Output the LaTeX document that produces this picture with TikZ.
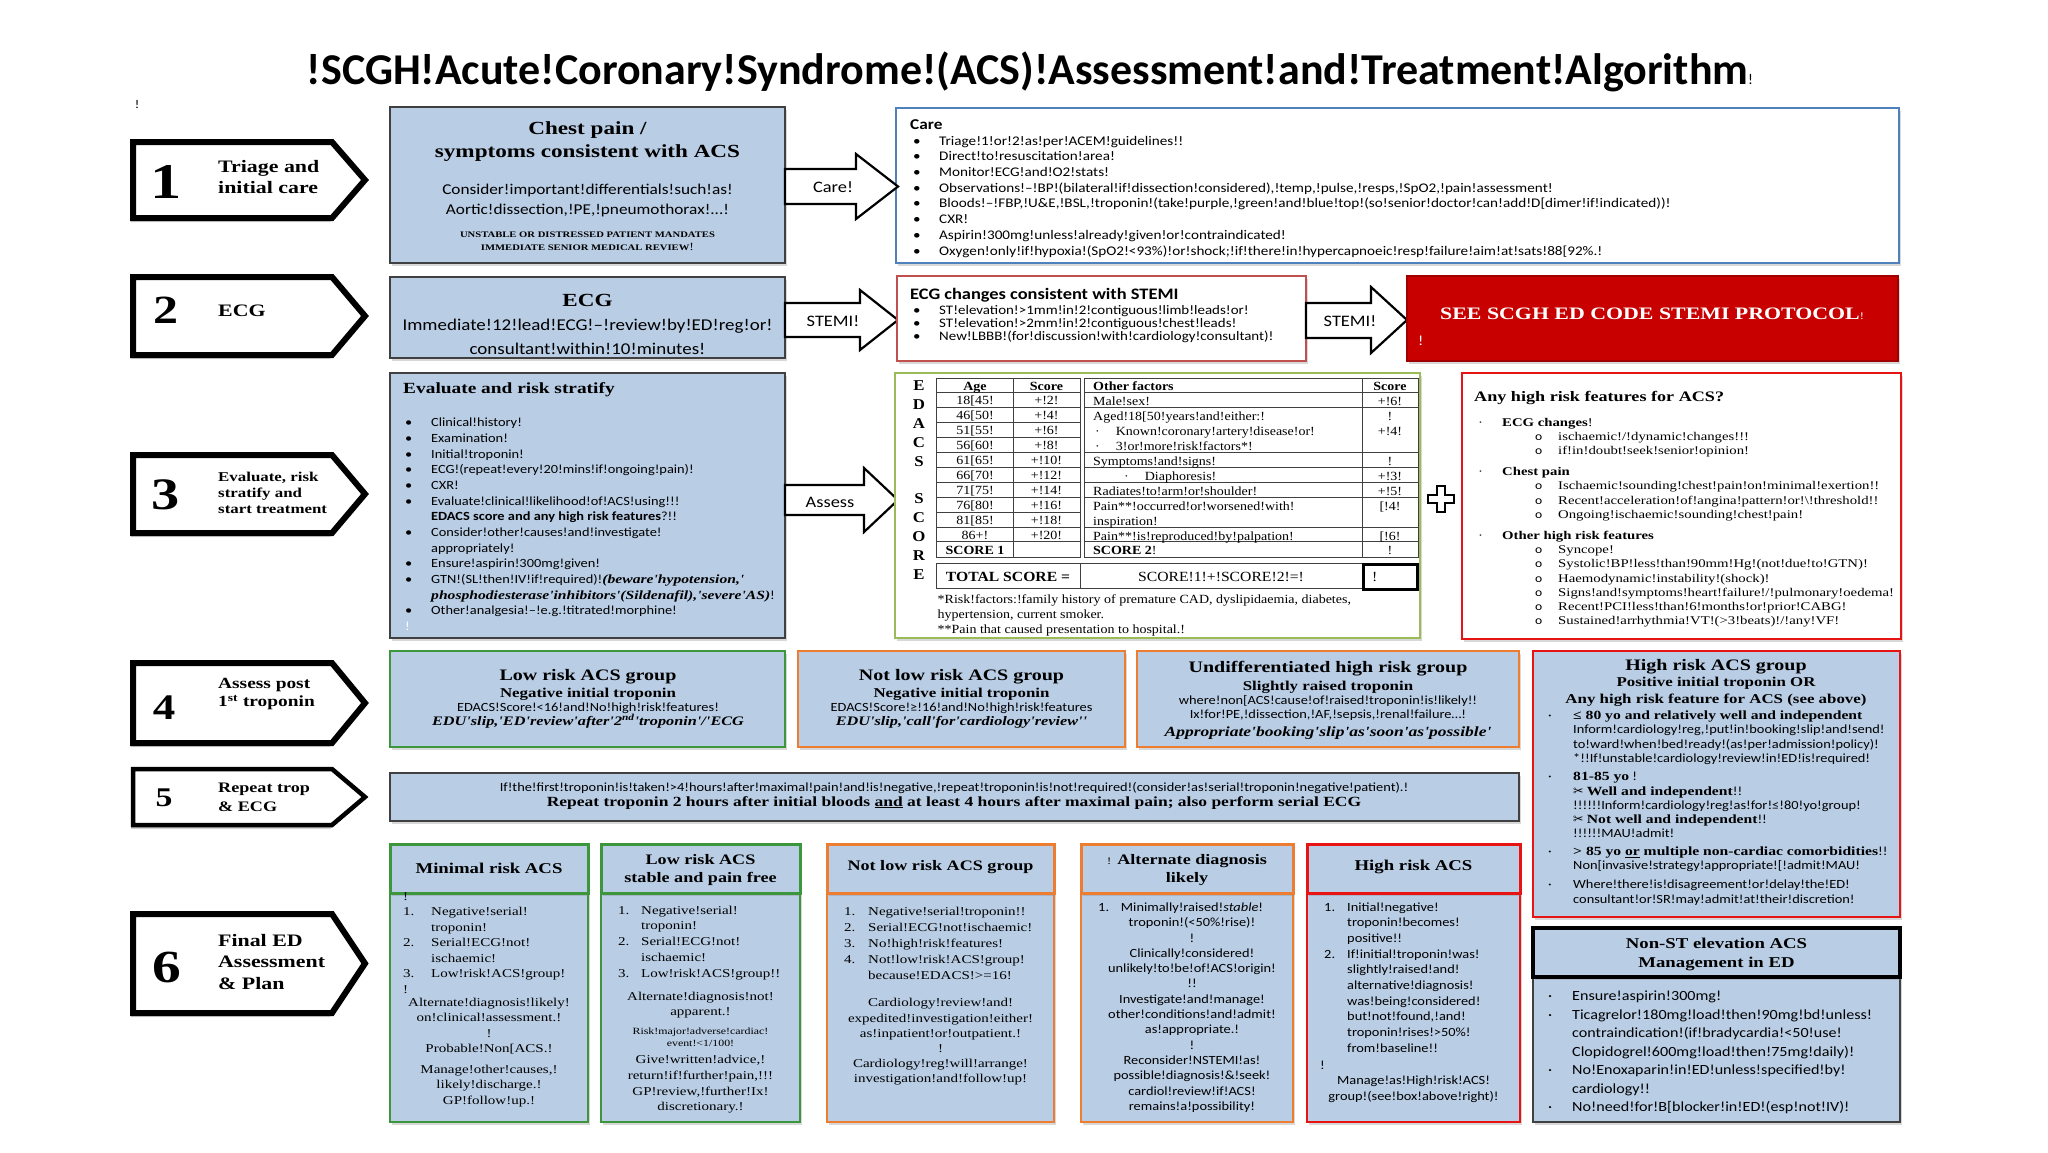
\documentclass[tikz,border=0pt]{standalone}
\usepackage{fontspec}
\usepackage{tikz}
\usetikzlibrary{fit, shadows}
\setmainfont{Liberation Serif}
\newfontfamily\calfont{Carlito}[FakeStretch=1.15]
\newfontfamily\titlefont{Carlito}
\newfontfamily\camfont{Liberation Serif}[FakeStretch=1.25]
\newfontfamily\timfont{Liberation Serif}[FakeStretch=1.12]
\newfontfamily\symfont{DejaVu Sans}
\newcommand\fsz[2]{\fontsize{#1}{#2}\selectfont}
\definecolor{boxblue}{RGB}{185,205,229}
\definecolor{boxedge}{RGB}{64,64,64}
\definecolor{careblue}{RGB}{79,129,189}
\definecolor{stemired}{RGB}{192,80,77}
\definecolor{codered}{RGB}{200,0,0}
\definecolor{hotred}{RGB}{232,20,20}
\definecolor{okgreen}{RGB}{60,150,60}
\definecolor{edgreen}{RGB}{155,187,89}
\definecolor{warnorange}{RGB}{237,125,49}

\begin{document}
\begin{tikzpicture}[x=1pt, y=-1pt,
    bluebox/.style={draw=boxedge, fill=boxblue, line width=1.2pt, inner sep=0pt,
                    drop shadow={shadow xshift=2pt, shadow yshift=-3pt, opacity=.3}},
    whitebox/.style={bluebox, fill=white, line width=2pt},
    steparrow/.style={draw=black, fill=white, line join=miter,
                      drop shadow={shadow xshift=-2pt, shadow yshift=-4pt, opacity=.35}},
    blockarr/.style={draw=black, fill=white, line width=2.2pt, line join=miter},
    steptxt/.style={anchor=west, align=left, inner sep=0pt, font=\camfont\bfseries},
    txt/.style={inner sep=0pt, align=center},
    lst/.style={anchor=west, inner sep=0pt},
    tline/.style={draw=black!75, line width=1pt},
    tcell/.style={inner sep=0pt, anchor=base, font=\timfont\fsz{12.5}{14}},
    tcellw/.style={tcell, anchor=base west},
  ]
  \fill[white] (0,0) rectangle (2048,1152);
  \useasboundingbox (0,0) rectangle (2048,1152);

  % title
  \node[anchor=base, inner sep=0pt, font=\titlefont\bfseries\fsz{44}{48}] (title) at (1030,84)
    {!SCGH!Acute!Coronary!Syndrome!(ACS)!Assessment!and!Treatment!Algorithm{\mdseries\fsz{15}{15}!}};
  \node[font=\calfont\fsz{12}{12}] (bang) at (137,104) {!};

  % step arrows
  \foreach \n/\t/\b/\w in {1/142/218/6pt, 2/277/355/6pt, 3/455/533/6pt, 4/663/743/6pt, 5/769/825/4.5pt, 6/914/1013/6pt}{
    \draw[steparrow, line width=\w] (133,\t) -- (332,\t) -- (365,{(\t+\b)/2}) -- (332,\b) -- (133,\b) -- cycle;
  }
  \node[font=\camfont\bfseries\fsz{50}{50}] (num1) at (166,182) {1};
  \node[font=\camfont\bfseries\fsz{40}{40}] (num2) at (166,310) {2};
  \node[font=\camfont\bfseries\fsz{45}{45}] (num3) at (166,495) {3};
  \node[font=\camfont\bfseries\fsz{36}{36}] (num4) at (164,708) {4};
  \node[font=\camfont\bfseries\fsz{27}{27}] (num5) at (164,798) {5};
  \node[font=\camfont\bfseries\fsz{46}{46}] (num6) at (167,967) {6};
  \node[steptxt, font=\camfont\bfseries\fsz{17.5}{21}] (lab1) at (218,177.5) {Triage and\\initial care};
  \node[steptxt, font=\camfont\bfseries\fsz{17.5}{21}] (lab2) at (218,311) {ECG};
  \node[steptxt, font=\camfont\bfseries\fsz{13.5}{16}] (lab3) at (218,493) {Evaluate, risk\\stratify and\\start treatment};
  \node[steptxt, font=\camfont\bfseries\fsz{15.5}{18}] (lab4) at (218,694) {Assess post\\1\textsuperscript{st} troponin};
  \node[steptxt, font=\camfont\bfseries\fsz{14.5}{19}] (lab5) at (218,797.5) {Repeat trop\\\& ECG};
  \node[steptxt, font=\camfont\bfseries\fsz{17.5}{21.5}] (lab6) at (218,961.5) {Final ED\\Assessment\\\& Plan};

  % row 1 and 2
  \node[bluebox, fit={(390,107) (785,263)}] (chest) {};
  \node[txt, font=\camfont\bfseries\fsz{18.5}{23}] (chesthead) at (587.5,141.5) {Chest pain /\\symptoms consistent with ACS};
  \node[txt, font=\calfont\fsz{15}{20}] (chestdiff) at (587.5,200) {Consider!important!differentials!such!as!\\Aortic!dissection,!PE,!pneumothorax!...!};
  \node[txt, font=\camfont\bfseries\fsz{8.5}{13}] (chestnote) at (587.5,241.5) {UNSTABLE OR DISTRESSED PATIENT MANDATES\\IMMEDIATE SENIOR MEDICAL REVIEW{\mdseries\fsz{11}{13}!}};

  \node[whitebox, draw=careblue, fit={(896,108) (1899,263)}] (care) {};
  \node[anchor=base west, inner sep=0pt, font=\calfont\bfseries\fsz{15}{16}] (carehead) at (910,129) {Care};
  \node[lst, font=\calfont\fsz{13.2}{15.7}] (careitems) at (913,197) {%
    \begin{tabular}{@{}p{26pt}@{}l@{}}
    \textbullet & Triage!1!or!2!as!per!ACEM!guidelines!!\\
    \textbullet & Direct!to!resuscitation!area!\\
    \textbullet & Monitor!ECG!and!O2!stats!\\
    \textbullet & Observations!–!BP!(bilateral!if!dissection!considered),!temp,!pulse,!resps,!SpO2,!pain!assessment!\\
    \textbullet & Bloods!–!FBP,!U\&E,!BSL,!troponin!(take!purple,!green!and!blue!top!(so!senior!doctor!can!add!D[dimer!if!indicated))!\\
    \textbullet & CXR!\\
    \textbullet & Aspirin!300mg!unless!already!given!or!contraindicated!\\
    \textbullet & Oxygen!only!if!hypoxia!(SpO2!<93\%)!or!shock;!if!there!in!hypercapnoeic!resp!failure!aim!at!sats!88[92\%.!
    \end{tabular}};
  \draw[blockarr] (785,169) -- (856,169) -- (856,154) -- (898,186.5) -- (856,219) -- (856,204) -- (785,204) -- cycle;
  \node[font=\calfont\fsz{16}{16}] (carelab) at (833,187) {Care!};

  \node[bluebox, fit={(390,277) (785,358)}] (ecg) {};
  \node[txt, font=\calfont\fsz{16.5}{24}] (ecgtxt) at (587.5,324) {{\camfont\bfseries\fsz{18.5}{24}ECG}\\Immediate!12!lead!ECG!–!review!by!ED!reg!or!\\consultant!within!10!minutes!};
  \draw[blockarr] (785,303) -- (860,303) -- (860,290) -- (898,320) -- (860,350) -- (860,337) -- (785,337) -- cycle;
  \node[font=\calfont\fsz{16}{16}] (stemilab1) at (833,321) {STEMI!};

  \node[whitebox, draw=stemired, fit={(897,276) (1306,361)}] (stemi) {};
  \node[anchor=base west, inner sep=0pt, font=\calfont\bfseries\fsz{16}{16}] (stemihead) at (910,299) {ECG changes consistent with STEMI};
  \node[lst, font=\calfont\fsz{13}{13}] (stemiitems) at (913,325) {%
    \begin{tabular}{@{}p{26pt}@{}l@{}}
    \textbullet & ST!elevation!>1mm!in!2!contiguous!limb!leads!or!\\
    \textbullet & ST!elevation!>2mm!in!2!contiguous!chest!leads!\\
    \textbullet & New!LBBB!(for!discussion!with!cardiology!consultant)!
    \end{tabular}};
  \draw[blockarr] (1306,303) -- (1371,303) -- (1371,287) -- (1407,320) -- (1371,353) -- (1371,338) -- (1306,338) -- cycle;
  \node[font=\calfont\fsz{16}{16}] (stemilab2) at (1350,321) {STEMI!};
  \node[bluebox, draw=codered!80!black, fill=codered, fit={(1407,276) (1898,361)}] (code) {};
  \node[anchor=base west, inner sep=0pt, text=white, font=\camfont\bfseries\fsz{17.5}{18}] (codetxt) at (1440,319) {SEE SCGH ED CODE STEMI PROTOCOL{\mdseries\fsz{10}{10}!}};
  \node[anchor=base west, inner sep=0pt, text=white, font=\calfont\fsz{14}{14}] (codebang) at (1418,345) {!};

  % row 3
  \node[bluebox, fit={(390,373) (785,638)}] (evaluate) {};
  \node[anchor=base west, inner sep=0pt, font=\camfont\bfseries\fsz{15.5}{16}] (evalhead) at (403,393) {Evaluate and risk stratify};
  \node[lst, font=\calfont\fsz{12.5}{15.7}] (evalitems) at (405,525.5) {%
    \begin{tabular}{@{}p{26pt}@{}l@{}}
    \textbullet & Clinical!history!\\
    \textbullet & Examination!\\
    \textbullet & Initial!troponin!\\
    \textbullet & ECG!(repeat!every!20!mins!if!ongoing!pain)!\\
    \textbullet & CXR!\\
    \textbullet & Evaluate!clinical!likelihood!of!ACS!using!!!\\
                & \textbf{EDACS score and any high risk features}?!!\\
    \textbullet & Consider!other!causes!and!investigate!\\
                & appropriately!\\
    \textbullet & Ensure!aspirin!300mg!given!\\
    \textbullet & GTN!(SL!then!IV!if!required)!{\camfont\bfseries\itshape(beware'hypotension,'}\\
                & {\camfont\bfseries\itshape phosphodiesterase'inhibitors'(Sildenafil),'severe'AS)}!\\
    \textbullet & Other!analgesia!–!e.g.!titrated!morphine!\\
    \multicolumn{2}{@{}l@{}}{\color{white}!}
    \end{tabular}};
  \draw[blockarr] (785,485) -- (864,485) -- (864,468) -- (898,500) -- (864,532) -- (864,515) -- (785,515) -- cycle;
  \node[font=\calfont\fsz{16}{16}] (assesslab) at (830,502) {Assess};

  \node[whitebox, draw=edgreen, line width=2.5pt, fit={(895,373) (1420,638)}] (edacs) {};
  \node[txt, font=\timfont\bfseries\fsz{15}{18.9}] (edacsword) at (919,480) {E\\D\\A\\C\\S\\ \\S\\C\\O\\R\\E};
  % age table
  \draw[tline] (936.5,378) rectangle (1080,557);
  \draw[tline] (1013,378) -- (1013,557);
  \foreach \k in {1,...,11} \draw[tline] (936.5,378+14.9*\k) -- (1080,378+14.9*\k);
  \node[tcell, font=\timfont\bfseries\fsz{12.5}{14}] (agehead) at (975,390) {Age};
  \node[tcell, font=\timfont\bfseries\fsz{12.5}{14}] (agescorehead) at (1046.5,390) {Score};
  \foreach \a/\s [count=\k] in {18[45!/+!2!, 46[50!/+!4!, 51[55!/+!6!, 56[60!/+!8!, 61[65!/+!10!,
                                66[70!/+!12!, 71[75!/+!14!, 76[80!/+!16!, 81[85!/+!18!, 86+!/+!20!}{
    \node[tcell] (age\k) at (975,390+14.9*\k) {\a};
    \node[tcell] (agept\k) at (1046.5,390+14.9*\k) {\s};
  }
  \node[tcell, font=\timfont\bfseries\fsz{12.5}{14}] (score1) at (975,554) {SCORE 1};
  % other factors table
  \draw[tline] (1084,378) rectangle (1418,557);
  \draw[tline] (1362,378) -- (1362,557);
  \foreach \k in {1,2,5,6,7,8,10,11} \draw[tline] (1084,378+14.9*\k) -- (1418,378+14.9*\k);
  \node[tcellw, font=\timfont\bfseries\fsz{12.5}{14}] (othhead) at (1093,390) {Other factors};
  \node[tcell, font=\timfont\bfseries\fsz{12.5}{14}] (othscorehead) at (1390,390) {Score};
  \node[tcellw] (oth1) at (1093,405) {Male!sex!};
  \node[tcellw] (oth2) at (1093,420) {Aged!18[50!years!and!either:!};
  \node[tcellw] (oth3) at (1095,435) {·\hspace{16pt}Known!coronary!artery!disease!or!};
  \node[tcellw] (oth4) at (1095,450) {·\hspace{16pt}3!or!more!risk!factors*!};
  \node[tcellw] (oth5) at (1093,465) {Symptoms!and!signs!};
  \node[tcellw] (oth6) at (1124,480) {·\hspace{16pt}Diaphoresis!};
  \node[tcellw] (oth7) at (1093,495) {Radiates!to!arm!or!shoulder!};
  \node[tcellw] (oth8) at (1093,510) {Pain**!occurred!or!worsened!with!};
  \node[tcellw] (oth9) at (1093,525) {inspiration!};
  \node[tcellw] (oth10) at (1093,540) {Pain**!is!reproduced!by!palpation!};
  \node[tcellw] (oth11) at (1093,554) {\textbf{SCORE 2}!};
  \foreach \y/\s [count=\k] in {405/+!6!, 420/!, 435/+!4!, 465/!, 480/+!3!, 495/+!5!, 510/{[}!4!, 540/{[}!6!, 554/!}{
    \node[tcell] (othpt\k) at (1390,\y) {\s};
  }
  % total row
  \draw[tline] (936.5,563) rectangle (1418,588);
  \draw[tline] (1080,563) -- (1080,588);
  \draw[draw=black, line width=3pt] (1363,564) rectangle (1417,589);
  \node[tcell, font=\timfont\bfseries\fsz{14}{15}] (totlab) at (1008,581) {TOTAL SCORE =};
  \node[tcell, font=\timfont\fsz{14}{15}] (totsum) at (1221,581) {SCORE!1!+!SCORE!2!=!};
  \node[tcellw, font=\timfont\fsz{14}{15}] (totval) at (1372,581) {!};
  \node[anchor=west, inner sep=0pt, align=left, font=\timfont\fsz{12.5}{15}] (edacsnote) at (937.5,615)
    {*Risk!factors:!family history of premature CAD, dyslipidaemia, diabetes,\\hypertension, current smoker.\\**Pain that caused presentation to hospital.!};

  \draw[line width=1.5pt, fill=white] (1437,486) -- (1445,486) -- (1445,495) -- (1454,495) -- (1454,503) -- (1445,503)
    -- (1445,512) -- (1437,512) -- (1437,503) -- (1428,503) -- (1428,495) -- (1437,495) -- cycle;

  \node[whitebox, draw=hotred, line width=2.5pt, fit={(1462,373) (1901,639)}] (hrfeat) {};
  \node[anchor=base west, inner sep=0pt, font=\camfont\bfseries\fsz{14.5}{16}] (hrfeathead) at (1474,401) {Any high risk features for ACS?};
  \node[lst, font=\camfont\fsz{11.8}{14.2}] (hrfeatitems) at (1478,522.5) {%
    \begin{tabular}{@{}p{24pt}@{}p{56pt}@{}l@{}}
    · & \multicolumn{2}{@{}l@{}}{\textbf{ECG changes}!}\\
      & \hspace*{33pt}{\calfont o} & ischaemic!/!dynamic!changes!!!\\
      & \hspace*{33pt}{\calfont o} & if!in!doubt!seek!senior!opinion!\\[7pt]
    · & \multicolumn{2}{@{}l@{}}{\textbf{Chest pain}}\\
      & \hspace*{33pt}{\calfont o} & Ischaemic!sounding!chest!pain!on!minimal!exertion!!\\
      & \hspace*{33pt}{\calfont o} & Recent!acceleration!of!angina!pattern!or!\textbackslash!threshold!!\\
      & \hspace*{33pt}{\calfont o} & Ongoing!ischaemic!sounding!chest!pain!\\[7pt]
    · & \multicolumn{2}{@{}l@{}}{\textbf{Other high risk features}}\\
      & \hspace*{33pt}{\calfont o} & Syncope!\\
      & \hspace*{33pt}{\calfont o} & Systolic!BP!less!than!90mm!Hg!(not!due!to!GTN)!\\
      & \hspace*{33pt}{\calfont o} & Haemodynamic!instability!(shock)!\\
      & \hspace*{33pt}{\calfont o} & Signs!and!symptoms!heart!failure!/!pulmonary!oedema!\\
      & \hspace*{33pt}{\calfont o} & Recent!PCI!less!than!6!months!or!prior!CABG!\\
      & \hspace*{33pt}{\calfont o} & Sustained!arrhythmia!VT!(>3!beats)!/!any!VF!
    \end{tabular}};

  % row 4
  \node[bluebox, draw=okgreen, line width=1.5pt, fit={(390,651) (785,747)}] (lowgrp) {};
  \node[txt, font=\calfont\fsz{12.5}{14}] (lowgrptxt) at (588,698.5)
    {{\camfont\bfseries\fsz{16}{17}Low risk ACS group}\\[3pt]{\camfont\bfseries\fsz{13.5}{14}Negative initial troponin}\\
     EDACS!Score!<16!and!No!high!risk!features!\\{\camfont\bfseries\itshape\fsz{13}{14}EDU'slip,'ED'review'after'2\textsuperscript{nd}'troponin'/'ECG}};
  \node[bluebox, draw=warnorange, line width=1.5pt, fit={(798,651) (1125,747)}] (notlow) {};
  \node[txt, font=\calfont\fsz{12.5}{14}] (notlowtxt) at (961.5,698.5)
    {{\camfont\bfseries\fsz{16}{17}Not low risk ACS group}\\[3pt]{\camfont\bfseries\fsz{13.5}{14}Negative initial troponin}\\
     EDACS!Score!≥!16!and!No!high!risk!features\\{\camfont\bfseries\itshape\fsz{13}{14}EDU'slip,'call'for'cardiology'review''}};
  \node[bluebox, draw=warnorange, line width=1.5pt, fit={(1137,651) (1519,747)}] (undiff) {};
  \node[txt, font=\calfont\fsz{12.5}{14}] (undifftxt) at (1328,700)
    {{\camfont\bfseries\fsz{16}{17}Undifferentiated high risk group}\\[4pt]{\camfont\bfseries\fsz{13.5}{14}Slightly raised troponin}\\
     where!non[ACS!cause!of!raised!troponin!is!likely!!\\Ix!for!PE,!dissection,!AF,!sepsis,!renal!failure…!\\[4pt]
     {\camfont\bfseries\itshape\fsz{14}{14}Appropriate'booking'slip'as'soon'as'possible'}};
  \node[bluebox, draw=hotred, line width=2pt, fit={(1533,651) (1900,917)}] (hrgroup) {};
  \node[txt, font=\camfont\bfseries\fsz{13.5}{16.5}] (hrgrouphead) at (1716,682.5)
    {{\fsz{16}{16.5}High risk ACS group}\\Positive initial troponin OR\\Any high risk feature for ACS (see above)};
  \node[lst, font=\calfont\fsz{12.5}{14.3}] (hrgroupitems) at (1548,808.5) {%
    \begin{tabular}{@{}p{25pt}@{}l@{}}
    · & {\camfont\bfseries ≤ 80 yo and relatively well and independent}\\
      & Inform!cardiology!reg,!put!in!booking!slip!and!send!\\
      & to!ward!when!bed!ready!(as!per!admission!policy)!\\
      & *!!If!unstable!cardiology!review!in!ED!is!required!\\[4pt]
    · & {\camfont\bfseries 81-85 yo} !\\
      & {\symfont ✂}\ {\camfont\bfseries Well and independent}!!\\
      & !!!!!!Inform!cardiology!reg!as!for!≤!80!yo!group!\\
      & {\symfont ✂}\ {\camfont\bfseries Not well and independent}!!\\
      & !!!!!!MAU!admit!\\[3pt]
    · & {\camfont\bfseries > 85 yo \underline{or} multiple non-cardiac comorbidities}!!\\
      & Non[invasive!strategy!appropriate![!admit!MAU!\\[5pt]
    · & Where!there!is!disagreement!or!delay!the!ED!\\
      & consultant!or!SR!may!admit!at!their!discretion!
    \end{tabular}};

  % row 5
  \node[bluebox, fit={(390,773) (1519,821)}] (repeat) {};
  \node[txt, font=\calfont\fsz{12.5}{15}] (repeattxt) at (954,795.5)
    {If!the!first!troponin!is!taken!>4!hours!after!maximal!pain!and!is!negative,!repeat!troponin!is!not!required!(consider!as!serial!troponin!negative!patient).!\\
     {\camfont\bfseries\fsz{14}{15}Repeat troponin 2 hours after initial bloods \underline{and} at least 4 hours after maximal pain; also perform serial ECG}};

  % row 6
  \node[bluebox, draw=okgreen, line width=1.5pt, fit={(390,893) (588,1122)}] (minbody) {};
  \node[bluebox, draw=okgreen, line width=3pt, fit={(390,844) (588,893)}] (minhead) {};
  \node[txt, font=\camfont\bfseries\fsz{15}{18}] (minheadtxt) at (489,868) {Minimal risk ACS};
  \node[lst, font=\camfont\fsz{12}{15.5}] (minitems) at (403,943.5) {%
    \begin{tabular}{@{}p{28pt}@{}l@{}}
    \multicolumn{2}{@{}l@{}}{!}\\
    1. & Negative!serial!\\
       & troponin!\\
    2. & Serial!ECG!not!\\
       & ischaemic!\\
    3. & Low!risk!ACS!group!\\
    \multicolumn{2}{@{}l@{}}{!}
    \end{tabular}};
  \node[txt, font=\camfont\fsz{12}{15.5}] (minnote1) at (489,1026) {Alternate!diagnosis!likely!\\on!clinical!assessment.!\\!\\Probable!Non[ACS.!};
  \node[txt, font=\camfont\fsz{12}{15.8}] (minnote2) at (489,1086) {Manage!other!causes,!\\likely!discharge.!\\GP!follow!up.!};

  \node[bluebox, draw=okgreen, line width=1.5pt, fit={(601,893) (800,1122)}] (lowbody) {};
  \node[bluebox, draw=okgreen, line width=3pt, fit={(601,844) (800,893)}] (lowhead) {};
  \node[txt, font=\camfont\bfseries\fsz{14.5}{18}] (lowheadtxt) at (700.5,870) {Low risk ACS\\stable and pain free};
  \node[lst, font=\camfont\fsz{12}{15.7}] (lowitems) at (618,942.5) {%
    \begin{tabular}{@{}p{23pt}@{}l@{}}
    1. & Negative!serial!\\
       & troponin!\\
    2. & Serial!ECG!not!\\
       & ischaemic!\\
    3. & Low!risk!ACS!group!!
    \end{tabular}};
  \node[txt, font=\camfont\fsz{12}{15.7}] (lownote1) at (700.5,1005) {Alternate!diagnosis!not!\\apparent.!};
  \node[txt, font=\camfont\fsz{9.5}{12}] (lownote2) at (700.5,1037) {Risk!major!adverse!cardiac!\\event!<1/100!};
  \node[txt, font=\camfont\fsz{12}{15.7}] (lownote3) at (700.5,1084.5) {Give!written!advice,!\\return!if!further!pain,!!!\\GP!review,!further!Ix!\\discretionary.!};

  \node[bluebox, draw=warnorange, line width=1.5pt, fit={(827,893) (1054,1122)}] (nlbody) {};
  \node[bluebox, draw=warnorange, line width=3pt, fit={(827,844) (1054,893)}] (nlhead) {};
  \node[txt, font=\camfont\bfseries\fsz{14.5}{18}] (nlheadtxt) at (940.5,867) {Not low risk ACS group};
  \node[lst, font=\camfont\fsz{12}{16}] (nlitems) at (844,944) {%
    \begin{tabular}{@{}p{24pt}@{}l@{}}
    1. & Negative!serial!troponin!!\\
    2. & Serial!ECG!not!ischaemic!\\
    3. & No!high!risk!features!\\
    4. & Not!low!risk!ACS!group!\\
       & because!EDACS!>=16!
    \end{tabular}};
  \node[txt, font=\camfont\fsz{12}{15.2}] (nlnote) at (940.5,1042) {Cardiology!review!and!\\expedited!investigation!either!\\as!inpatient!or!outpatient.!\\!\\Cardiology!reg!will!arrange!\\investigation!and!follow!up!};

  \node[bluebox, draw=warnorange, line width=1.5pt, fit={(1081,893) (1293,1122)}] (altbody) {};
  \node[bluebox, draw=warnorange, line width=3pt, fit={(1081,844) (1293,893)}] (althead) {};
  \node[txt, font=\camfont\bfseries\fsz{14.5}{18}] (altheadtxt) at (1187,870) {{\mdseries\fsz{10}{18}!} Alternate diagnosis\\likely};
  \node[anchor=west, inner sep=0pt, font=\calfont\fsz{12.5}{15.3}] (altnum) at (1098,908) {1.};
  \node[txt, font=\calfont\fsz{12.5}{15.3}] (altnote) at (1192,1007.5)
    {Minimally!raised!\textit{stable}!\\troponin!(<50\%!rise)!\\!\\Clinically!considered!\\unlikely!to!be!of!ACS!origin!\\!!\\
     Investigate!and!manage!\\other!conditions!and!admit!\\as!appropriate.!\\!\\Reconsider!NSTEMI!as!\\possible!diagnosis!\&!seek!\\cardiol!review!if!ACS!\\remains!a!possibility!};

  \node[bluebox, draw=hotred, line width=1.5pt, fit={(1307,893) (1520,1122)}] (hrbody) {};
  \node[bluebox, draw=hotred, line width=3pt, fit={(1307,844) (1520,893)}] (hrhead) {};
  \node[txt, font=\camfont\bfseries\fsz{15}{18}] (hrheadtxt) at (1413.5,867) {High risk ACS};
  \node[lst, font=\calfont\fsz{12.5}{15.7}] (hritems) at (1324,978.5) {%
    \begin{tabular}{@{}p{23pt}@{}l@{}}
    1. & Initial!negative!\\
       & troponin!becomes!\\
       & positive!!\\
    2. & If!initial!troponin!was!\\
       & slightly!raised!and!\\
       & alternative!diagnosis!\\
       & was!being!considered!\\
       & but!not!found,!and!\\
       & troponin!rises!>50\%!\\
       & from!baseline!!
    \end{tabular}};
  \node[anchor=west, inner sep=0pt, font=\calfont\fsz{12.5}{15.7}] (hrbang) at (1320,1065) {!};
  \node[txt, font=\calfont\fsz{12.5}{16}] (hrnote) at (1413.5,1089) {Manage!as!High!risk!ACS!\\group!(see!box!above!right)!};

  \node[bluebox, line width=1.5pt, fit={(1533,977) (1900,1122)}] (nstbody) {};
  \node[bluebox, draw=black, line width=3.5pt, fit={(1533,928) (1900,977)}] (nsthead) {};
  \node[txt, font=\camfont\bfseries\fsz{15}{19}] (nstheadtxt) at (1716.5,954.5) {Non-ST elevation ACS\\Management in ED};
  \node[lst, font=\calfont\fsz{14}{18.5}] (nstitems) at (1548,1052.5) {%
    \begin{tabular}{@{}p{24pt}@{}l@{}}
    · & Ensure!aspirin!300mg!\\
    · & Ticagrelor!180mg!load!then!90mg!bd!unless!\\
      & contraindication!(if!bradycardia!<50!use!\\
      & Clopidogrel!600mg!load!then!75mg!daily)!\\
    · & No!Enoxaparin!in!ED!unless!specified!by!\\
      & cardiology!!\\
    · & No!need!for!B[blocker!in!ED!(esp!not!IV)!
    \end{tabular}};
\end{tikzpicture}
\end{document}
